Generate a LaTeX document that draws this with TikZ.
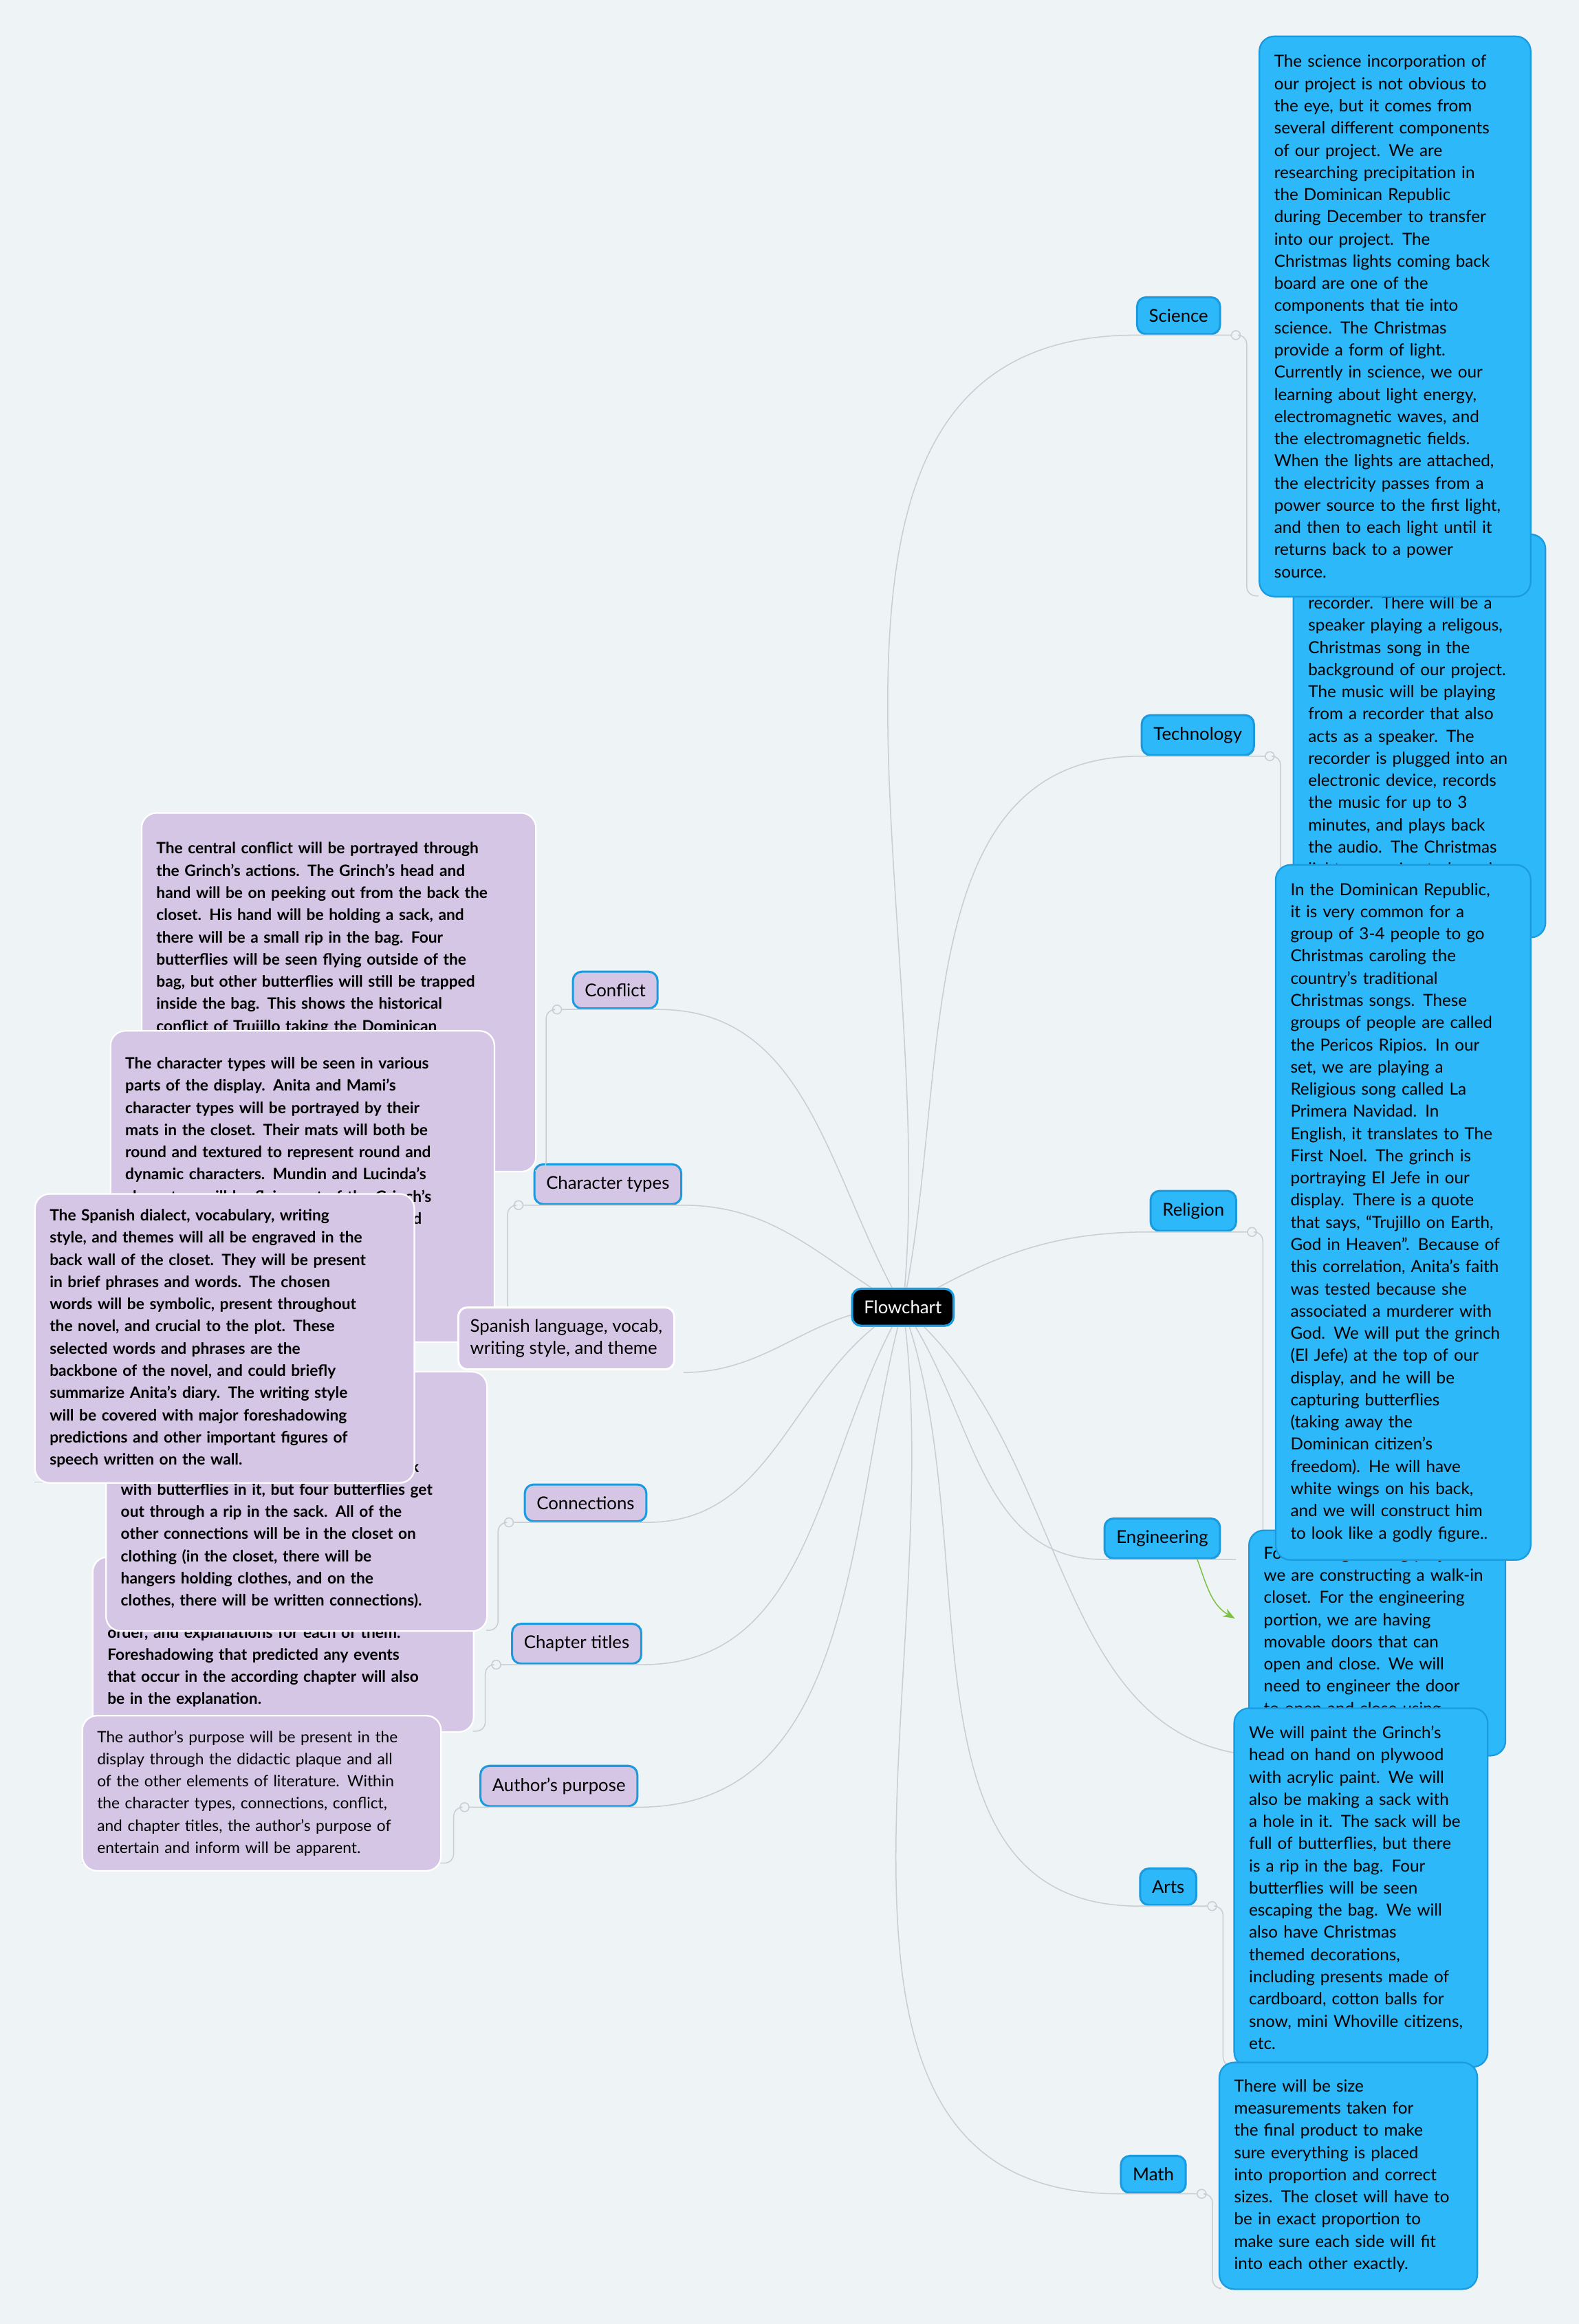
\documentclass[tikz,border=0pt]{standalone}
\usepackage{fontspec}
\setmainfont{Lato}
\usetikzlibrary{calc,arrows.meta}
\definecolor{bg}{HTML}{EEF3F6}
\definecolor{bfill}{HTML}{2DB8F9}
\definecolor{bdraw}{HTML}{1A9BE0}
\definecolor{pfill}{HTML}{D5C6E6}
\definecolor{lnc}{HTML}{C9CED2}
\definecolor{grn}{HTML}{7CC242}
\tikzset{
 tb/.style={anchor=north west,align=left,inner sep=0.5cm,rounded corners=0.5cm,font=\fontsize{16}{21.3}\selectfont},
 bt/.style={tb,fill=bfill,draw=bdraw,line width=1.5pt},
 pt/.style={tb,fill=pfill,draw=white,line width=1.5pt,font=\fontsize{15}{21.3}\selectfont\bfseries},
 bl/.style={fill=bfill,draw=bdraw,line width=2pt,rounded corners=0.3cm,inner sep=0.4cm,font=\fontsize{17}{20}\selectfont},
 pl/.style={fill=pfill,draw=bdraw,line width=2pt,rounded corners=0.3cm,inner sep=0.4cm,font=\fontsize{17}{20}\selectfont},
 ln/.style={draw=lnc,line width=1pt},
 dot/.style={circle,draw=lnc,fill=bg,inner sep=0pt,minimum size=0.3cm,line width=1pt}
}
\begin{document}
\begin{tikzpicture}[x=0.05cm,y=-0.05cm]
\fill[bg] (0,0) rectangle (1065,1568);
\useasboundingbox (0,0) rectangle (1065,1568);
% labels
\node[bl,text=white,fill=black] (fc) at (609,882) {Flowchart};
\node[bl] (sci) at (795,213) {Science};
\node[bl] (tech) at (808,496) {Technology};
\node[bl] (rel) at (805,817) {Religion};
\node[bl] (eng) at (784,1038) {Engineering};
\node[bl] (arts) at (788,1273) {Arts};
\node[bl] (math) at (778,1467) {Math};
\node[pl] (conf) at (415,668) {Conflict};
\node[pl] (char) at (410,799) {Character types};
\node[pl] (conn) at (395,1014) {Connections};
\node[pl] (chap) at (389,1109) {Chapter titles};
\node[pl] (auth) at (377,1205) {Author's purpose};
% connector end points at text boxes
\coordinate (scib) at (849,402);
\coordinate (techb) at (872,632);
\coordinate (relb) at (860,1052);
\coordinate (artsb) at (832,1394);
\coordinate (mathb) at (822,1544);
\coordinate (confb) at (361,790);
\coordinate (charb) at (333,905);
\coordinate (connb) at (328,1100);
\coordinate (chapb) at (319,1168);
\coordinate (authb) at (297,1257);
% right connectors
\foreach \l/\o/\b in {sci/84/scib,tech/78/techb,rel/30/relb,arts/-70/artsb,math/-82/mathb}{
 \draw[ln] (fc.center) to[out=\o,in=180] (\l.south west) -- ($(\l.south east)+(10,0)$) node[dot] (d\l) {};
 \draw[ln,rounded corners=0.3cm] (d\l.east) -- ++(4,0) |- (\b);
}
\draw[ln] (fc.center) to[out=-55,in=180] (eng.south west) -- ($(eng.south east)+(10,0)$);
\draw[ln] (fc.center) to[out=-40,in=180] (860,1185);
% left connectors
\foreach \l/\o/\b in {conf/120/confb,char/150/charb,conn/-150/connb,chap/-120/chapb,auth/-105/authb}{
 \draw[ln] (fc.center) to[out=\o,in=0] (\l.south east) -- ($(\l.south west)+(-10,0)$) node[dot] (d\l) {};
 \draw[ln,rounded corners=0.3cm] (d\l.west) -- ++(-4,0) |- (\b);
}
\draw[ln] (fc.center) to[out=180,in=0] (461,926);
\draw[ln] (23,1000) -- (279,1000);
\draw[ln] (authb) -- (55,1257);
\node[bl,text=white,fill=black] at (fc) {Flowchart};
% blue text boxes
\node[bt,text width=7.5cm,minimum height=13.6cm] (techt) at (872,360) {For technology, we have a\\Bluetooth speaker and a\\recorder. There will be a\\speaker playing a religous,\\Christmas song in the\\background of our project.\\The music will be playing\\from a recorder that also\\acts as a speaker. The\\recorder is plugged into an\\electronic device, records\\the music for up to 3\\minutes, and plays back\\the audio. The Christmas\\lights are going to be color\\coordinated with each\\other.};
\node[bt,text width=7.65cm,minimum height=7.6cm,font=\fontsize{16}{21.3}\selectfont] (engt) at (842,1032) {For the engineering project,\\we are constructing a walk-in\\closet. For the engineering\\portion, we are having\\movable doors that can\\open and close. We will\\need to engineer the door\\to open and close using\\hinges.};
\node[bt,text width=8.15cm,minimum height=18.9cm] (scit) at (849,24) {The science incorporation of\\our project is not obvious to\\the eye, but it comes from\\several different components\\of our project. We are\\researching precipitation in\\the Dominican Republic\\during December to transfer\\into our project. The\\Christmas lights coming back\\board are one of the\\components that tie into\\science. The Christmas\\provide a form of light.\\Currently in science, we our\\learning about light energy,\\electromagnetic waves, and\\the electromagnetic fields.\\When the lights are attached,\\the electricity passes from a\\power source to the first light,\\and then to each light until it\\returns back to a power\\source.};
\node[bt,text width=7.6cm,minimum height=23.45cm] (relt) at (860,583) {In the Dominican Republic,\\it is very common for a\\group of 3-4 people to go\\Christmas caroling the\\country's traditional\\Christmas songs. These\\groups of people are called\\the Pericos Ripios. In our\\set, we are playing a\\Religious song called La\\Primera Navidad. In\\English, it translates to The\\First Noel. The grinch is\\portraying El Jefe in our\\display. There is a quote\\that says, “Trujillo on Earth,\\God in Heaven”. Because of\\this correlation, Anita's faith\\was tested because she\\associated a murderer with\\God. We will put the grinch\\(El Jefe) at the top of our\\display, and he will be\\capturing butterflies\\(taking away the\\Dominican citizen's\\freedom). He will have\\white wings on his back,\\and we will construct him\\to look like a godly figure..};
\node[bt,text width=7.55cm,minimum height=12.1cm] (artst) at (832,1152) {We will paint the Grinch's\\head on hand on plywood\\with acrylic paint. We will\\also be making a sack with\\a hole in it. The sack will be\\full of butterflies, but there\\is a rip in the bag. Four\\butterflies will be seen\\escaping the bag. We will\\also have Christmas\\themed decorations,\\including presents made of\\cardboard, cotton balls for\\snow, mini Whoville citizens,\\etc.};
\node[bt,text width=7.7cm,minimum height=7.65cm] (matht) at (822,1391) {There will be size\\measurements taken for\\the final product to make\\sure everything is placed\\into proportion and correct\\sizes. The closet will have to\\be in exact proportion to\\make sure each side will fit\\into each other exactly.};
\draw[grn,line width=1pt,-{Stealth[length=0.4cm]}] (eng.south east) ++(-16,0) to[out=-70,in=150] (833,1092);
% purple text boxes
\node[pt,text width=12.3cm,minimum height=12.1cm] (conft) at (95,548) {The central conflict will be portrayed through\\the Grinch's actions. The Grinch's head and\\hand will be on peeking out from the back the\\closet. His hand will be holding a sack, and\\there will be a small rip in the bag. Four\\butterflies will be seen flying outside of the\\bag, but other butterflies will still be trapped\\inside the bag. This shows the historical\\conflict of Trujillo taking the Dominican\\people's freedom, just like the Grinch took\\Christmas from the Whos.\\\mbox{}\\\mbox{}\\\mbox{}};
\node[pt,text width=11.95cm,minimum height=10.5cm] (chart) at (74,695) {The character types will be seen in various\\parts of the display. Anita and Mami's\\character types will be portrayed by their\\mats in the closet. Their mats will both be\\round and textured to represent round and\\dynamic characters. Mundin and Lucinda's\\characters will be flying out of the Grinch's\\bag, representing their flat characters and\\static personalities. In the corner of\\the closet, there will be a Whoville\\citizen who represents citizens from-\\the Dominican Republic under Trujillo.};
\node[pt,text width=11.85cm,minimum height=5.9cm] (chapt) at (62,1050) {The chapter titles will be written in the\\closet, with each title in chronological\\order, and explanations for each of them.\\Foreshadowing that predicted any events\\that occur in the according chapter will also\\be in the explanation.};
\node[pt,text width=11.85cm,minimum height=8.75cm] (connt) at (71,925) {There are many connections to our\\novel in the display. One of the\\connections is Trujillo's rule. This will\\be portrayed by the Grinch holding a sack\\with butterflies in it, but four butterflies get\\out through a rip in the sack. All of the\\other connections will be in the closet on\\clothing (in the closet, there will be\\hangers holding clothes, and on the\\clothes, there will be written connections).};
\node[pt,text width=11.8cm,minimum height=9.75cm] (spant) at (23,805) {The Spanish dialect, vocabulary, writing\\style, and themes will all be engraved in the\\back wall of the closet. They will be present\\in brief phrases and words. The chosen\\words will be symbolic, present throughout\\the novel, and crucial to the plot. These\\selected words and phrases are the\\backbone of the novel, and could briefly\\summarize Anita's diary. The writing style\\will be covered with major foreshadowing\\predictions and other important figures of\\speech written on the wall.};
\node[pl,draw=white,align=left,font=\fontsize{17}{21}\selectfont] (span) at (382,903) {Spanish language, vocab,\\writing style, and theme};
\node[pt,font=\fontsize{15}{21.3}\selectfont,text width=11.1cm,minimum height=5cm] (autht) at (55,1157) {The author's purpose will be present in the\\display through the didactic plaque and all\\of the other elements of literature. Within\\the character types, connections, conflict,\\and chapter titles, the author's purpose of\\entertain and inform will be apparent.};
\end{tikzpicture}
\end{document}
